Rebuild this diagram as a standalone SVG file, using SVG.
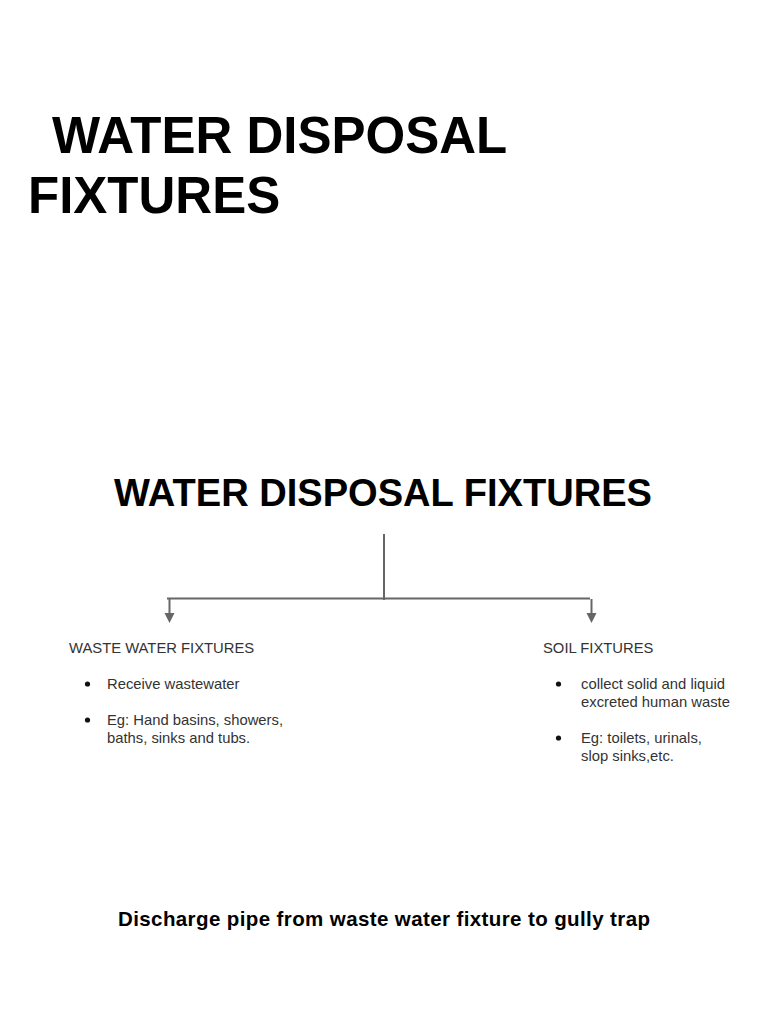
<svg xmlns="http://www.w3.org/2000/svg" width="768" height="1024" viewBox="0 0 768 1024">
<style>
.h1{font-family:"Liberation Sans",Arial,sans-serif;font-weight:bold;font-size:51px;fill:#000}
.h2{font-family:"Liberation Sans",Arial,sans-serif;font-weight:bold;font-size:38px;fill:#000}
.t{font-family:"Liberation Sans",Arial,sans-serif;font-size:14.8px;fill:#333}
.b{font-family:"Liberation Sans",Arial,sans-serif;font-weight:bold;font-size:20.5px;fill:#000}
.ln{stroke:#666;stroke-width:2;fill:none}
.ah{fill:#666}
.dot{fill:#111}
</style>
<rect width="768" height="1024" fill="#fff"/>
<g id="title">
<text class="h1" x="52" y="153">WATER DISPOSAL</text>
<text class="h1" x="28" y="213">FIXTURES</text>
</g>
<g id="root">
<text class="h2" x="114" y="506" textLength="538" lengthAdjust="spacingAndGlyphs">WATER DISPOSAL FIXTURES</text>
</g>
<g id="connectors">
<line class="ln" x1="384" y1="534" x2="384" y2="600"/>
<line class="ln" x1="167" y1="598.5" x2="590" y2="598.5"/>
<line class="ln" x1="169.5" y1="599" x2="169.5" y2="614"/>
<path class="ah" d="M164.5,613 L174.5,613 L169.5,623 Z"/>
<line class="ln" x1="591.5" y1="599" x2="591.5" y2="614"/>
<path class="ah" d="M586.5,613 L596.5,613 L591.5,623 Z"/>
</g>
<g id="waste">
<text class="t" x="69" y="653">WASTE WATER FIXTURES</text>
<circle class="dot" cx="87.5" cy="684" r="2.6"/>
<text class="t" x="107" y="689">Receive wastewater</text>
<circle class="dot" cx="87.5" cy="720" r="2.6"/>
<text class="t" x="107" y="725">Eg: Hand basins, showers,</text>
<text class="t" x="107" y="743">baths, sinks and tubs.</text>
</g>
<g id="soil">
<text class="t" x="543" y="653">SOIL FIXTURES</text>
<circle class="dot" cx="558.5" cy="684" r="2.6"/>
<text class="t" x="581" y="689">collect solid and liquid</text>
<text class="t" x="581" y="707">excreted human waste</text>
<circle class="dot" cx="558.5" cy="738" r="2.6"/>
<text class="t" x="581" y="743">Eg: toilets, urinals,</text>
<text class="t" x="581" y="761">slop sinks,etc.</text>
</g>
<g id="caption">
<text class="b" x="118" y="926" textLength="532" lengthAdjust="spacing">Discharge pipe from waste water fixture to gully trap</text>
</g>
</svg>
